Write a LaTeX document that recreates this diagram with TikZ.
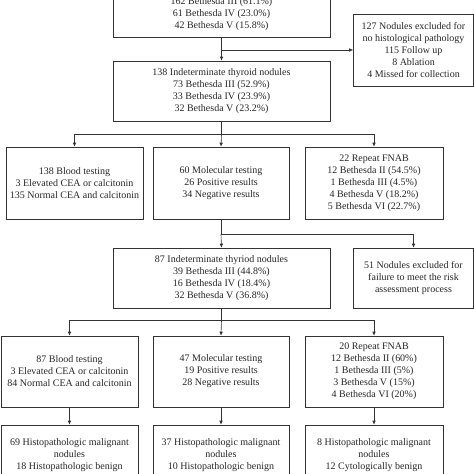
\documentclass[tikz,border=0pt]{standalone}
\usepackage{fontspec}
\setmainfont{Liberation Serif}
\usetikzlibrary{arrows.meta}
\begin{document}
\begin{tikzpicture}[
  x=1pt, y=-1pt,
  box/.style={draw=black!80, line width=0.6pt, rectangle, align=center, inner sep=2pt,
    text=black!85, font=\fontsize{10}{12}\selectfont},
  arr/.style={draw=black!80, line width=0.6pt, -{Latex[length=4pt,width=3.6pt]}},
  ln/.style={draw=black!80, line width=0.6pt}
]
  \clip (0,0) rectangle (474,474);

  % first screening level
  \node[box, minimum width=217pt, minimum height=46pt] (all) at (221.5,14)
    {162 Bethesda III (61.1\%)\\61 Bethesda IV (23.0\%)\\42 Bethesda V (15.8\%)};
  \node[box, minimum width=120pt, minimum height=72pt] (excl1) at (413.5,50)
    {127 Nodules excluded for\\no histological pathology\\115 Follow up\\8 Ablation\\4 Missed for collection};
  \node[box, minimum width=217pt, minimum height=60pt] (ind1) at (221.5,91)
    {138 Indeterminate thyroid nodules\\73 Bethesda III (52.9\%)\\33 Bethesda IV (23.9\%)\\32 Bethesda V (23.2\%)};

  % tests on 138 nodules
  \node[box, minimum width=137pt, minimum height=72pt] (blood1) at (74.5,183)
    {138 Blood testing\\3 Elevated CEA or calcitonin\\135 Normal CEA and calcitonin};
  \node[box, minimum width=136pt, minimum height=72pt] (mol1) at (221,183)
    {60 Molecular testing\\26 Positive results\\34 Negative results};
  \node[box, minimum width=138pt, minimum height=72pt] (fnab1) at (374,183)
    {22 Repeat FNAB\\12 Bethesda II (54.5\%)\\1 Bethesda III (4.5\%)\\4 Bethesda V (18.2\%)\\5 Bethesda VI (22.7\%)};

  % second level
  \node[box, minimum width=217pt, minimum height=60pt] (ind2) at (221.5,278)
    {87 Indeterminate thyriod nodules\\39 Bethesda III (44.8\%)\\16 Bethesda IV (18.4\%)\\32 Bethesda V (36.8\%)};
  \node[box, minimum width=120pt, minimum height=60pt] (excl2) at (413.5,278)
    {51 Nodules excluded for\\failure to meet the risk\\assessment process};

  % tests on 87 nodules
  \node[box, minimum width=137pt, minimum height=71pt] (blood2) at (69.5,371.5)
    {87 Blood testing\\3 Elevated CEA or calcitonin\\84 Normal CEA and calcitonin};
  \node[box, minimum width=136pt, minimum height=71pt] (mol2) at (221,371.5)
    {47 Molecular testing\\19 Positive results\\28 Negative results};
  \node[box, minimum width=138pt, minimum height=71pt] (fnab2) at (374,371.5)
    {20 Repeat FNAB\\12 Bethesda II (60\%)\\1 Bethesda III (5\%)\\3 Bethesda V (15\%)\\4 Bethesda VI (20\%)};

  % outcomes
  \node[box, minimum width=137pt, minimum height=60pt] (hist1) at (69.5,455)
    {69 Histopathologic malignant\\nodules\\18 Histopathologic benign};
  \node[box, minimum width=136pt, minimum height=60pt] (hist2) at (221,455)
    {37 Histopathologic malignant\\nodules\\10 Histopathologic benign};
  \node[box, minimum width=138pt, minimum height=60pt] (hist3) at (374,455)
    {8 Histopathologic malignant\\nodules\\12 Cytologically benign};

  % connectors
  \draw[arr] (all.south) -- (ind1.north);
  \draw[arr] (all.south |- excl1.west) -- (excl1.west);

  \draw[ln] (ind1.south) -- ++(0,13) coordinate (br1);
  \draw[arr] (br1) -| (blood1.north);
  \draw[arr] (br1) -- (mol1.north);
  \draw[arr] (br1) -| (fnab1.north);

  \draw[ln] (mol1.south) -- ++(0,15) coordinate (br2);
  \draw[arr] (br2) -- (ind2.north);
  \draw[arr] (br2) -| (excl2.north);

  \draw[ln] (ind2.south) -- ++(0,12) coordinate (br3);
  \draw[arr] (br3) -| (blood2.north);
  \draw[arr] (br3) -- (mol2.north);
  \draw[arr] (br3) -| (fnab2.north);

  \draw[arr] (blood2.south) -- (hist1.north);
  \draw[arr] (mol2.south) -- (hist2.north);
  \draw[arr] (fnab2.south) -- (hist3.north);
\end{tikzpicture}
\end{document}
